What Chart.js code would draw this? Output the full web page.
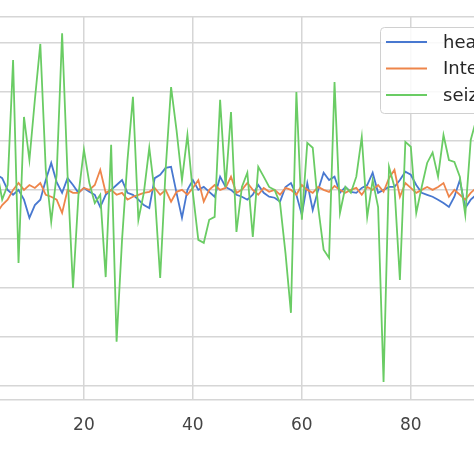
<!doctype html>
<html lang="en">
<head>
  <meta charset="utf-8">
  <title>EEG signals</title>
  <script src="https://cdn.jsdelivr.net/npm/chart.js"></script>
  <style>
    html, body { margin: 0; padding: 0; background: #fff; }
    canvas { display: block; }
  </style>
</head>
<body>
  <canvas id="eegChart" width="474" height="474"></canvas>

  <script>
    // sample index (only the visible part of the plot)
    const sampleIdx = [4,5,6,7,8,9,10,11,12,13,14,15,16,17,18,19,20,21,22,23,24,25,26,27,28,29,30,31,32,33,34,35,36,37,38,39,40,41,42,43,44,45,46,47,48,49,50,51,52,53,54,55,56,57,58,59,60,61,62,63,64,65,66,67,68,69,70,71,72,73,74,75,76,77,78,79,80,81,82,83,84,85,86,87,88,89,90,91,92];

    const healthy = [0.31,0.24,0,-0.10,0,-0.20,-0.57,-0.31,-0.20,0.20,0.55,0.16,-0.06,0.24,0.10,-0.06,0.04,-0.04,-0.10,-0.35,-0.10,0,0.10,0.20,-0.06,-0.10,-0.20,-0.31,-0.37,0.24,0.31,0.45,0.47,-0.06,-0.57,0,0.20,0,0.06,-0.04,-0.14,0.27,0.06,0,-0.10,-0.14,-0.20,-0.10,0.10,-0.06,-0.14,-0.16,-0.24,0.06,0.14,-0.10,-0.51,0.14,-0.41,0,0.35,0.20,0.27,-0.06,0.06,-0.04,-0.06,0.04,0.10,0.35,-0.06,0,0.06,0.06,0.20,0.37,0.31,0.10,-0.06,-0.10,-0.14,-0.20,-0.27,-0.35,-0.14,0.20,-0.37,-0.20,-0.10];

    const interictal = [-0.47,-0.31,-0.20,0,0.14,0,0.10,0.04,0.14,-0.10,-0.14,-0.20,-0.47,0,-0.06,-0.06,0.04,0,0.10,0.41,-0.06,0,-0.10,-0.06,-0.20,-0.14,-0.10,-0.06,-0.04,0.04,-0.10,0,-0.24,-0.04,0,-0.10,0.04,0.20,-0.24,0,0.10,0,0.04,0.27,-0.06,0,0.14,0,-0.10,0.04,-0.04,0,-0.10,0.04,0,-0.10,0.10,0,-0.06,0.06,0,-0.04,0.08,0,-0.06,0,0.04,-0.10,0.06,0,0.10,-0.04,0.24,0.41,-0.14,0.14,0.04,-0.06,0,0.06,0,0.06,0.14,-0.14,0,-0.10,-0.20,-0.06,0.04];

    const seizure = [0.41,-0.20,0.10,2.65,-1.49,1.49,0.61,1.84,2.98,0.41,-0.65,0.31,3.20,0.31,-2.00,-0.10,0.82,0.14,-0.27,-0.10,-1.78,0.92,-3.10,-1.02,0.61,1.90,-0.61,-0.06,0.86,-0.06,-1.80,0.41,2.10,1.22,0.20,1.12,-0.06,-1.02,-1.08,-0.61,-0.55,1.84,0.06,1.59,-0.86,0.06,0.35,-0.96,0.47,0.27,0.06,0,-0.27,-1.29,-2.51,2.00,-0.61,0.96,0.86,-0.35,-1.22,-1.39,2.20,-0.47,0.06,-0.06,0.27,1.08,-0.55,0.20,-0.35,-3.92,0.47,0.06,-1.84,0.98,0.88,-0.47,0.06,0.55,0.76,0.27,1.12,0.61,0.57,0.27,-0.51,1.02,1.43];

    const seriesNames = ['healthy', 'Interictal', 'seizure'];
    const seriesColors = ['#4878d0', '#ee854a', '#6acc64'];
    const xTickValues = [20, 40, 60, 80];
    const yGridValues = [-4.29, -4, -3, -2, -1, 0, 1, 2, 3, 3.53];

    const toPoints = arr => arr.map((v, i) => ({ x: sampleIdx[i], y: v }));

    // legend box inside the plot, partly cut off by the right edge like the original
    const boxLegend = {
      id: 'boxLegend',
      afterDraw(chart) {
        const ctx = chart.ctx;
        const x0 = 380, y0 = 27, w = 160, h = 86, r = 4;
        ctx.save();
        ctx.fillStyle = 'rgba(255,255,255,0.85)';
        ctx.strokeStyle = '#d0d0d0';
        ctx.lineWidth = 1;
        ctx.beginPath();
        ctx.roundRect(x0 + 0.5, y0 + 0.5, w, h, r);
        ctx.fill();
        ctx.stroke();
        ctx.font = '18px "DejaVu Sans", sans-serif';
        ctx.textBaseline = 'middle';
        seriesNames.forEach((name, i) => {
          const yy = 42 + i * 26.5;
          ctx.strokeStyle = seriesColors[i];
          ctx.lineWidth = 2;
          ctx.beginPath();
          ctx.moveTo(386, yy);
          ctx.lineTo(427, yy);
          ctx.stroke();
          ctx.fillStyle = '#262626';
          ctx.fillText(name, 443, yy + 1);
        });
        ctx.restore();
      }
    };

    const ctx = document.getElementById('eegChart').getContext('2d');
    new Chart(ctx, {
      type: 'line',
      data: {
        datasets: [
          { label: seriesNames[0], data: toPoints(healthy), borderColor: seriesColors[0], order: 2 },
          { label: seriesNames[1], data: toPoints(interictal), borderColor: seriesColors[1], order: 1 },
          { label: seriesNames[2], data: toPoints(seizure), borderColor: seriesColors[2], order: 0 }
        ]
      },
      options: {
        responsive: false,
        animation: false,
        devicePixelRatio: 1,
        layout: { padding: { top: 17, bottom: 23.6, left: 0, right: 0 } },
        elements: {
          point: { radius: 0 },
          line: { borderWidth: 1.8, tension: 0 }
        },
        plugins: {
          legend: { display: false },
          tooltip: { enabled: false }
        },
        scales: {
          x: {
            type: 'linear',
            min: 4.6,
            max: 91.6,
            afterBuildTicks: s => { s.ticks = xTickValues.map(v => ({ value: v })); },
            grid: { color: '#d6d6d6', lineWidth: 1.5, drawTicks: false },
            border: { display: false },
            ticks: {
              padding: 15,
              color: '#444',
              font: { family: '"DejaVu Sans", sans-serif', size: 17 }
            }
          },
          y: {
            min: -4.29,
            max: 3.53,
            afterBuildTicks: s => { s.ticks = yGridValues.map(v => ({ value: v })); },
            grid: { color: '#d6d6d6', lineWidth: 1.5, drawTicks: false },
            border: { display: false },
            ticks: { display: false }
          }
        }
      },
      plugins: [boxLegend]
    });
  </script>
</body>
</html>
